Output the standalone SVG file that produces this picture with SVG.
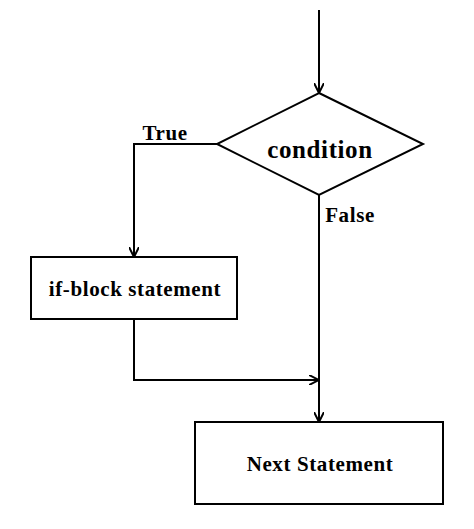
<svg xmlns="http://www.w3.org/2000/svg" width="474" height="529" viewBox="0 0 474 529">
<style>
.shape{fill:#fff;stroke:#000;stroke-width:2}
.line{fill:none;stroke:#000;stroke-width:2}
text{font-family:"Liberation Serif","DejaVu Serif",serif;font-weight:bold;fill:#000;text-anchor:middle}
.lbl{font-size:21px;letter-spacing:0.6px}
.big{font-size:25px;letter-spacing:0.6px}
</style>
<defs>
<marker id="arr" viewBox="0 0 10 10" refX="10" refY="5" markerWidth="10" markerHeight="10" markerUnits="userSpaceOnUse" orient="auto">
<path d="M0,0 L10,5 L0,10" fill="none" stroke="#000" stroke-width="2"/>
</marker>
</defs>
<rect width="474" height="529" fill="#fff"/>
<g id="connectors">
<line class="line" x1="319" y1="10" x2="319" y2="93" marker-end="url(#arr)"/>
<polyline class="line" points="217,144 134,144 134,257" marker-end="url(#arr)"/>
<polyline class="line" points="134,319 134,380 319,380" marker-end="url(#arr)"/>
<line class="line" x1="319" y1="195" x2="319" y2="422" marker-end="url(#arr)"/>
<text class="lbl" x="165" y="140">True</text>
<text class="lbl" x="350" y="222">False</text>
</g>
<g id="condition">
<polygon class="shape" points="319,93 423,144 319,195 217,144"/>
<text class="big" x="320" y="158">condition</text>
</g>
<g id="if-block">
<rect class="shape" x="31" y="257" width="206" height="62"/>
<text class="lbl" x="135" y="296">if-block statement</text>
</g>
<g id="next">
<rect class="shape" x="195" y="422" width="248" height="82"/>
<text class="lbl" x="320" y="471">Next Statement</text>
</g>
</svg>
